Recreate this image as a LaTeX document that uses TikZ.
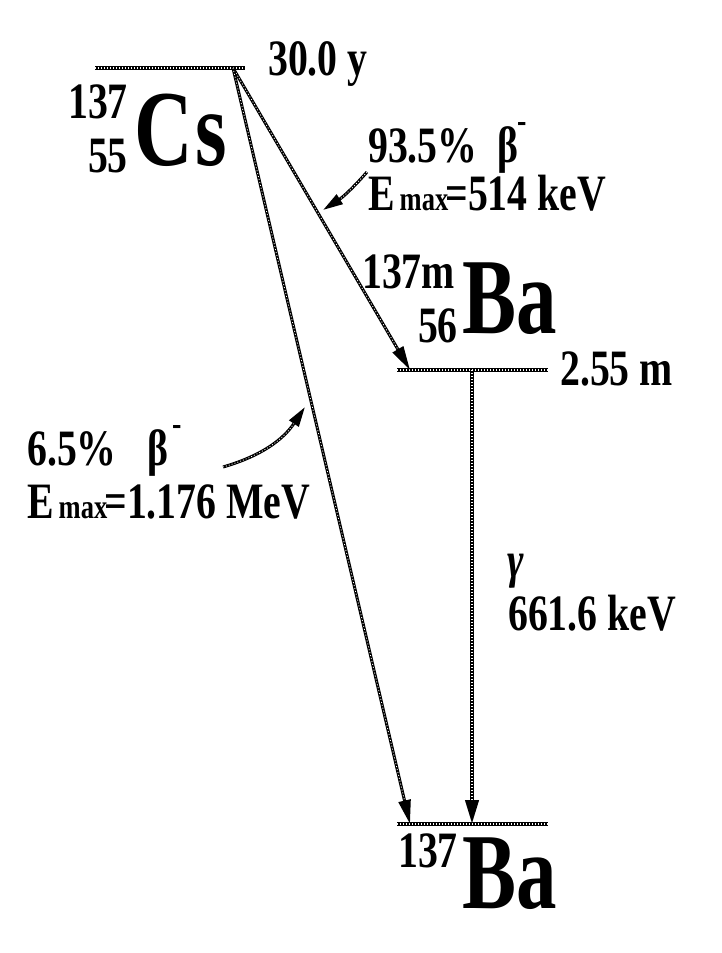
\documentclass[tikz,border=0pt]{standalone}
\usepackage{fontspec}
\newfontfamily\decayfont[FakeStretch=0.78]{Liberation Serif}
\newfontfamily\symfont[FakeStretch=0.75]{Liberation Serif}
\usetikzlibrary{arrows.meta}
\begin{document}
\begin{tikzpicture}[x=1pt, y=-1pt,
  lbl/.style = {inner sep=0pt, anchor=base west, font=\decayfont\bfseries\fontsize{51}{51}\selectfont},
  sym/.style = {inner sep=0pt, anchor=base west, font=\symfont\bfseries\fontsize{108}{108}\selectfont},
  sub/.style = {inner sep=0pt, anchor=base west, font=\decayfont\bfseries\fontsize{36}{36}\selectfont},
  level/.style = {line width=4pt, postaction={draw, white, line width=1.2pt, dash pattern=on 1pt off 2pt}},
  decay/.style = {line width=3pt, -{Triangle[length=24pt, width=12pt]},
    postaction={draw, white, -, line width=0.8pt, dash pattern=on 1pt off 2pt, shorten >=24pt}},
  gamma/.style = {line width=4pt, -{Triangle[length=24pt, width=13pt]},
    postaction={draw, white, -, line width=1.2pt, dash pattern=on 1pt off 2pt, shorten >=24pt}},
  pointer/.style = {line width=3pt, -{Triangle[length=20pt, width=11pt]},
    postaction={draw, white, -, line width=0.8pt, dash pattern=on 1pt off 2pt, shorten >=20pt}}]
\useasboundingbox (0,0) rectangle (721,953);

\coordinate (csL) at (95,68);
\coordinate (csR) at (245,68);
\coordinate (csD) at (233,68);
\coordinate (bamL) at (397,370);
\coordinate (bamR) at (548,370);
\coordinate (bamIn) at (410,370);
\coordinate (bamG) at (472,370);
\coordinate (baL) at (397,824);
\coordinate (baR) at (548,824);
\coordinate (baIn) at (410,824);
\coordinate (baG) at (472,824);

\node[lbl] (csT) at (268,75) {30.0 y};
\node[lbl, anchor=base east] (csA) at (128,118) {137};
\node[lbl, anchor=base east] (csZ) at (128,172) {55};
\node[sym] (cs) at (134,165) {C\hspace{3pt}s};

\node[lbl] (bamA) at (362,288) {137m};
\node[lbl, anchor=base east] (bamZ) at (458,342) {56};
\node[sym] (bam) at (462,333) {Ba};
\node[lbl] (bamT) at (560,385) {2.55 m};

\node[lbl, anchor=base east] (baA) at (458,867) {137};
\node[sym] (ba) at (462,908) {Ba};

\node[lbl] (brP) at (368,162) {93.5\%};
\node[lbl] (brB) at (497,162) {β};
\node[sub] (brM) at (517,132) {-};
\node[lbl] (brE) at (368,210) {E\hspace{5pt}{\fontsize{34}{34}\selectfont max}\hspace{-3pt}=514 keV};

\node[lbl] (bsP) at (27,465) {6.5\%};
\node[lbl] (bsB) at (147,465) {β};
\node[sub] (bsM) at (172,435) {-};
\node[lbl] (bsE) at (27,518) {E\hspace{5pt}{\fontsize{34}{34}\selectfont max}\hspace{-3pt}=1.176 MeV};

\node[lbl] (gam) at (507,577) {\itshape γ};
\node[lbl] (gamE) at (508,630) {661.6 keV};

\coordinate (p1s) at (367,172);
\coordinate (p1e) at (323,210);
\coordinate (p2s) at (223,467);
\coordinate (p2e) at (305,407);

\draw[level] (csL) -- (csR);
\draw[level] (bamL) -- (bamR);
\draw[level] (baL) -- (baR);
\draw[decay] (csD) -- (bamIn);
\draw[decay] (csD) -- (baIn);
\draw[gamma] (bamG) -- (baG);
\draw[pointer] (p1s) to[bend left=8] (p1e);
\draw[pointer] (p2s) to[bend right=20] (p2e);
\end{tikzpicture}
\end{document}
